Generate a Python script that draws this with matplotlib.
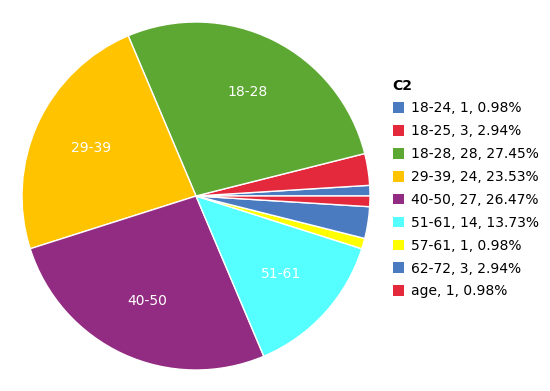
import numpy as np
import matplotlib
matplotlib.use("Agg")
import matplotlib.pyplot as plt

groups = ["18-24", "18-25", "18-28", "29-39", "40-50", "51-61", "57-61", "62-72", "age"]
counts = [1, 3, 28, 24, 27, 14, 1, 3, 1]
colors = ["#4a7bc0", "#e3293b", "#5da833", "#ffc300", "#922c82",
          "#55ffff", "#ffff00", "#4a7bc0", "#e3293b"]

total = sum(counts)
pcts = [100.0 * c / total for c in counts]

fig = plt.figure(figsize=(5.5, 3.91), dpi=100)
ax = fig.add_axes([22 / 550, 21 / 391, 348 / 550, 348 / 391])

wedges, _ = ax.pie(counts, colors=colors, startangle=0, counterclock=True,
                   wedgeprops=dict(edgecolor="white", linewidth=1.0))
ax.set_xlim(-1, 1)
ax.set_ylim(-1, 1)
ax.set_aspect("equal")

# names inside the big slices
for w, name, p in zip(wedges, groups, pcts):
    if p < 10:
        continue
    mid = np.deg2rad((w.theta1 + w.theta2) / 2)
    ax.text(0.665 * np.cos(mid), 0.665 * np.sin(mid), name, color="white",
            ha="center", va="center", fontsize=10)

labels = [f"{g}, {c}, {p:.2f}%" for g, c, p in zip(groups, counts, pcts)]
leg = fig.legend(wedges, labels, title="C2", loc="upper left",
                 bbox_to_anchor=(380 / 550, 1 - 66 / 391), frameon=False,
                 fontsize=10, handlelength=0.8, handleheight=0.8,
                 handletextpad=0.5, labelspacing=0.64, alignment="left")
leg.get_title().set_fontweight("bold")
leg.get_title().set_fontsize(10)
for h in leg.legend_handles:
    h.set_edgecolor("none")

fig.savefig("out.png", dpi=100)
